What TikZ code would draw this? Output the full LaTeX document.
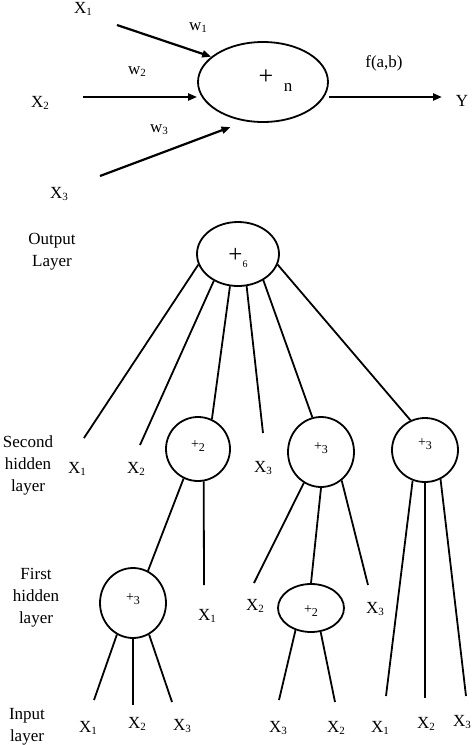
\documentclass[tikz,border=0pt]{standalone}
\usepackage{fontspec}
\setmainfont{Liberation Serif}
\usetikzlibrary{arrows.meta,shapes.geometric}
\newcommand\lsub[2]{#1\raisebox{-0.35ex}{\fontsize{11}{11}\selectfont #2}}
\newcommand\psub[1]{{\fontsize{14}{14}\selectfont +}\raisebox{-0.45ex}{\fontsize{12}{12}\selectfont #1}}
\begin{document}
\begin{tikzpicture}[x=1pt,y=-1pt,
  lbl/.style={font=\fontsize{17}{22}\selectfont, inner sep=0pt, align=center},
  bl/.style={lbl, anchor=base},
  ln/.style={line width=1.8pt},
  thk/.style={line width=2.5pt},
  arr/.style={line width=2.2pt, -{Triangle[length=9pt,width=7pt]}},
  nd/.style={draw, line width=1.8pt, ellipse, inner sep=0pt}]
\useasboundingbox (0,0) rectangle (474,745);

% ---------- top neuron ----------
\node[nd, minimum width=130pt, minimum height=80pt] (n) at (263,82) {};
\node[lbl, font=\fontsize{26}{26}\selectfont] (plus) at (266,77) {+};
\node[bl] (nn) at (288,91) {n};
\node[bl] (x1) at (83,13) {\lsub{X}{1}};
\node[bl] (x2) at (40,107) {\lsub{X}{2}};
\node[bl] (x3) at (59,198) {\lsub{X}{3}};
\node[bl] (w1) at (198,30) {\lsub{w}{1}};
\node[bl] (w2) at (137,74) {\lsub{w}{2}};
\node[bl] (w3) at (159,132) {\lsub{w}{3}};
\node[bl] (fab) at (384,67) {f(a,b)};
\node[bl] (y) at (462,106) {Y};
\coordinate (a1) at (117,25);
\coordinate (a2) at (83,97);
\coordinate (a3) at (100,176);
\coordinate (ye) at (442,97);
\draw[arr] (a1) -- (n.154);
\draw[arr] (a2) -- (a2 -| n.west);
\draw[arr, shorten >=16pt] (a3) -- (n.246);
\draw[arr] (n.east |- ye) -- (ye);

% ---------- tree ----------
\node[lbl] (lo) at (52,252) {Output\\Layer};
\node[lbl] (ls) at (28,465) {Second\\hidden\\layer};
\node[lbl] (lf) at (36,598) {First\\hidden\\layer};
\node[lbl] (li) at (27,727) {Input\\layer};

\node[nd, minimum width=82pt, minimum height=64pt] (o6) at (238,254) {};
\node[lbl] (o6t) at (238,258) {{\fontsize{25}{25}\selectfont +}\raisebox{-0.6ex}{\fontsize{10}{10}\selectfont 6}};

\node[nd, minimum width=64pt, minimum height=64pt] (h2) at (198,449) {};
\node[lbl] (h2t) at (198,446) {\psub{2}};
\node[nd, minimum width=66pt, minimum height=70pt] (h3) at (321,452) {};
\node[lbl] (h3t) at (321,448) {\psub{3}};
\node[nd, minimum width=66pt, minimum height=64pt] (h4) at (425,450) {};
\node[lbl] (h4t) at (425,444) {\psub{3}};
\node[nd, minimum width=66pt, minimum height=70pt] (f3) at (133,603) {};
\node[lbl] (f3t) at (133,599) {\psub{3}};
\node[nd, minimum width=66pt, minimum height=48pt] (f2) at (311,608) {};
\node[lbl] (f2t) at (311,611) {\psub{2}};

% second hidden layer labels
\node[bl] (s1) at (77,473) {\lsub{X}{1}};
\node[bl] (s2) at (136,473) {\lsub{X}{2}};
\node[bl] (s3) at (263,472) {\lsub{X}{3}};
% first hidden layer labels
\node[bl] (t1) at (207,620) {\lsub{X}{1}};
\node[bl] (t2) at (255,610) {\lsub{X}{2}};
\node[bl] (t3) at (375,613) {\lsub{X}{3}};
% input layer labels
\node[bl] (i1l) at (88,732) {\lsub{X}{1}};
\node[bl] (i2l) at (137,728) {\lsub{X}{2}};
\node[bl] (i3l) at (182,730) {\lsub{X}{3}};
\node[bl] (j1l) at (278,732) {\lsub{X}{3}};
\node[bl] (j2l) at (336,732) {\lsub{X}{2}};
\node[bl] (r1l) at (380,732) {\lsub{X}{1}};
\node[bl] (r2l) at (426,728) {\lsub{X}{2}};
\node[bl] (r3l) at (462,726) {\lsub{X}{3}};

\coordinate (e1) at (84,438);
\coordinate (e2) at (140,445);
\coordinate (e4) at (263,433);
\coordinate (g1) at (204,585);
\coordinate (g2) at (254,583);
\coordinate (g3) at (368,585);
\coordinate (r1) at (386,696);
\coordinate (r2) at (425,698);
\coordinate (r3) at (466,696);
\coordinate (i1) at (94,700);
\coordinate (i2) at (133,705);
\coordinate (i3) at (172,702);
\coordinate (j1) at (279,700);
\coordinate (j2) at (335,702);

\draw[ln] (o6.195) -- (e1);
\draw[ln] (o6.228) -- (e2);
\draw[ln] (o6.256) -- (h2.65);
\draw[ln] (o6.285) -- (e4);
\draw[ln] (o6.314) -- (h3.104);
\draw[ln] (o6.345) -- (h4.116);

\draw[ln] (h2.244) -- (f3.65);
\draw[ln] (h2.280) -- (g1);
\draw[ln] (h3.241) -- (g2);
\draw[ln] (h3.270) -- (f2.90);
\draw[ln] (h3.306) -- (g3);
\draw[ln] (h4.248) -- (r1);
\draw[thk] (h4.270) -- (r2);
\draw[ln] (h4.298) -- (r3);

\draw[ln] (f3.243) -- (i1);
\draw[thk] (f3.270) -- (i2);
\draw[ln] (f3.297) -- (i3);
\draw[ln] (f2.235) -- (j1);
\draw[ln] (f2.292) -- (j2);
\end{tikzpicture}
\end{document}
